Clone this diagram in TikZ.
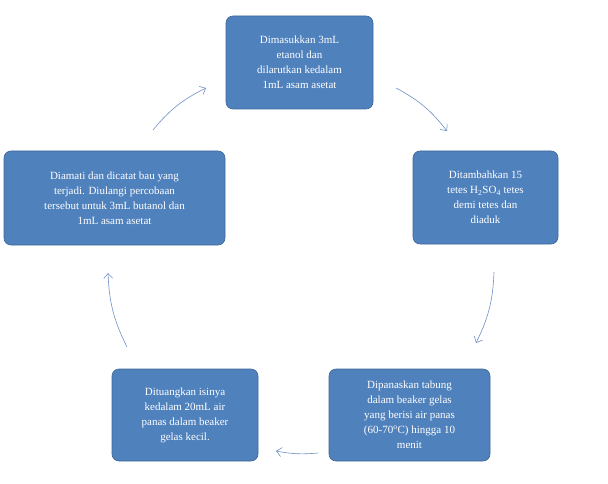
\documentclass[tikz,border=0pt]{standalone}
\usepackage{fontspec}
\setmainfont{Liberation Serif}
\usetikzlibrary{arrows.meta}
\definecolor{boxblue}{HTML}{4F81BD}
\definecolor{arr}{HTML}{6F90C4}
\begin{document}
\begin{tikzpicture}[x=1pt,y=-1pt,
  box/.style={draw=boxblue!80!black,line width=0.6pt,fill=boxblue,rounded corners=7pt,text=white,font=\fontsize{11}{15}\selectfont,align=center,inner sep=2pt},
  conn/.style={draw=arr,line width=0.6pt,-{Straight Barb[length=5pt,width=9pt]}}]
\useasboundingbox (0,0) rectangle (608,484);
\node[box,minimum width=147pt,minimum height=93pt] (b1) at (299.5,62.5) {Dimasukkan 3mL\\etanol dan\\dilarutkan kedalam\\1mL asam asetat};
\node[box,minimum width=145pt,minimum height=93pt] (b2) at (485.5,197.5) {Ditambahkan 15\\tetes H\textsubscript{2}SO\textsubscript{4} tetes\\demi tetes dan\\diaduk};
\node[box,minimum width=161pt,minimum height=92pt] (b3) at (409.5,415) {Dipanaskan tabung\\dalam beaker gelas\\yang berisi air panas\\(60-70\textsuperscript{o}C) hingga 10\\menit};
\node[box,minimum width=146pt,minimum height=92pt] (b4) at (185,415) {Dituangkan isinya\\kedalam 20mL air\\panas dalam beaker\\gelas kecil.};
\node[box,minimum width=221pt,minimum height=94pt] (b5) at (114.5,198) {Diamati dan dicatat bau yang\\terjadi. Diulangi percobaan\\tersebut untuk 3mL butanol dan\\1mL asam asetat};
\coordinate (a1s) at (396,88); \coordinate (a1e) at (447,131);
\coordinate (a2s) at (494,272); \coordinate (a2e) at (476,343);
\coordinate (a3s) at (318,453); \coordinate (a3e) at (276,451);
\coordinate (a4s) at (127,347); \coordinate (a4e) at (108,273);
\coordinate (a5s) at (153,130); \coordinate (a5e) at (206,88);
\draw[conn] (a1s) to[bend left=12] (a1e);
\draw[conn] (a2s) to[bend left=12] (a2e);
\draw[conn] (a3s) to[bend left=8] (a3e);
\draw[conn] (a4s) to[bend left=12] (a4e);
\draw[conn] (a5s) to[bend left=12] (a5e);
\end{tikzpicture}
\end{document}
